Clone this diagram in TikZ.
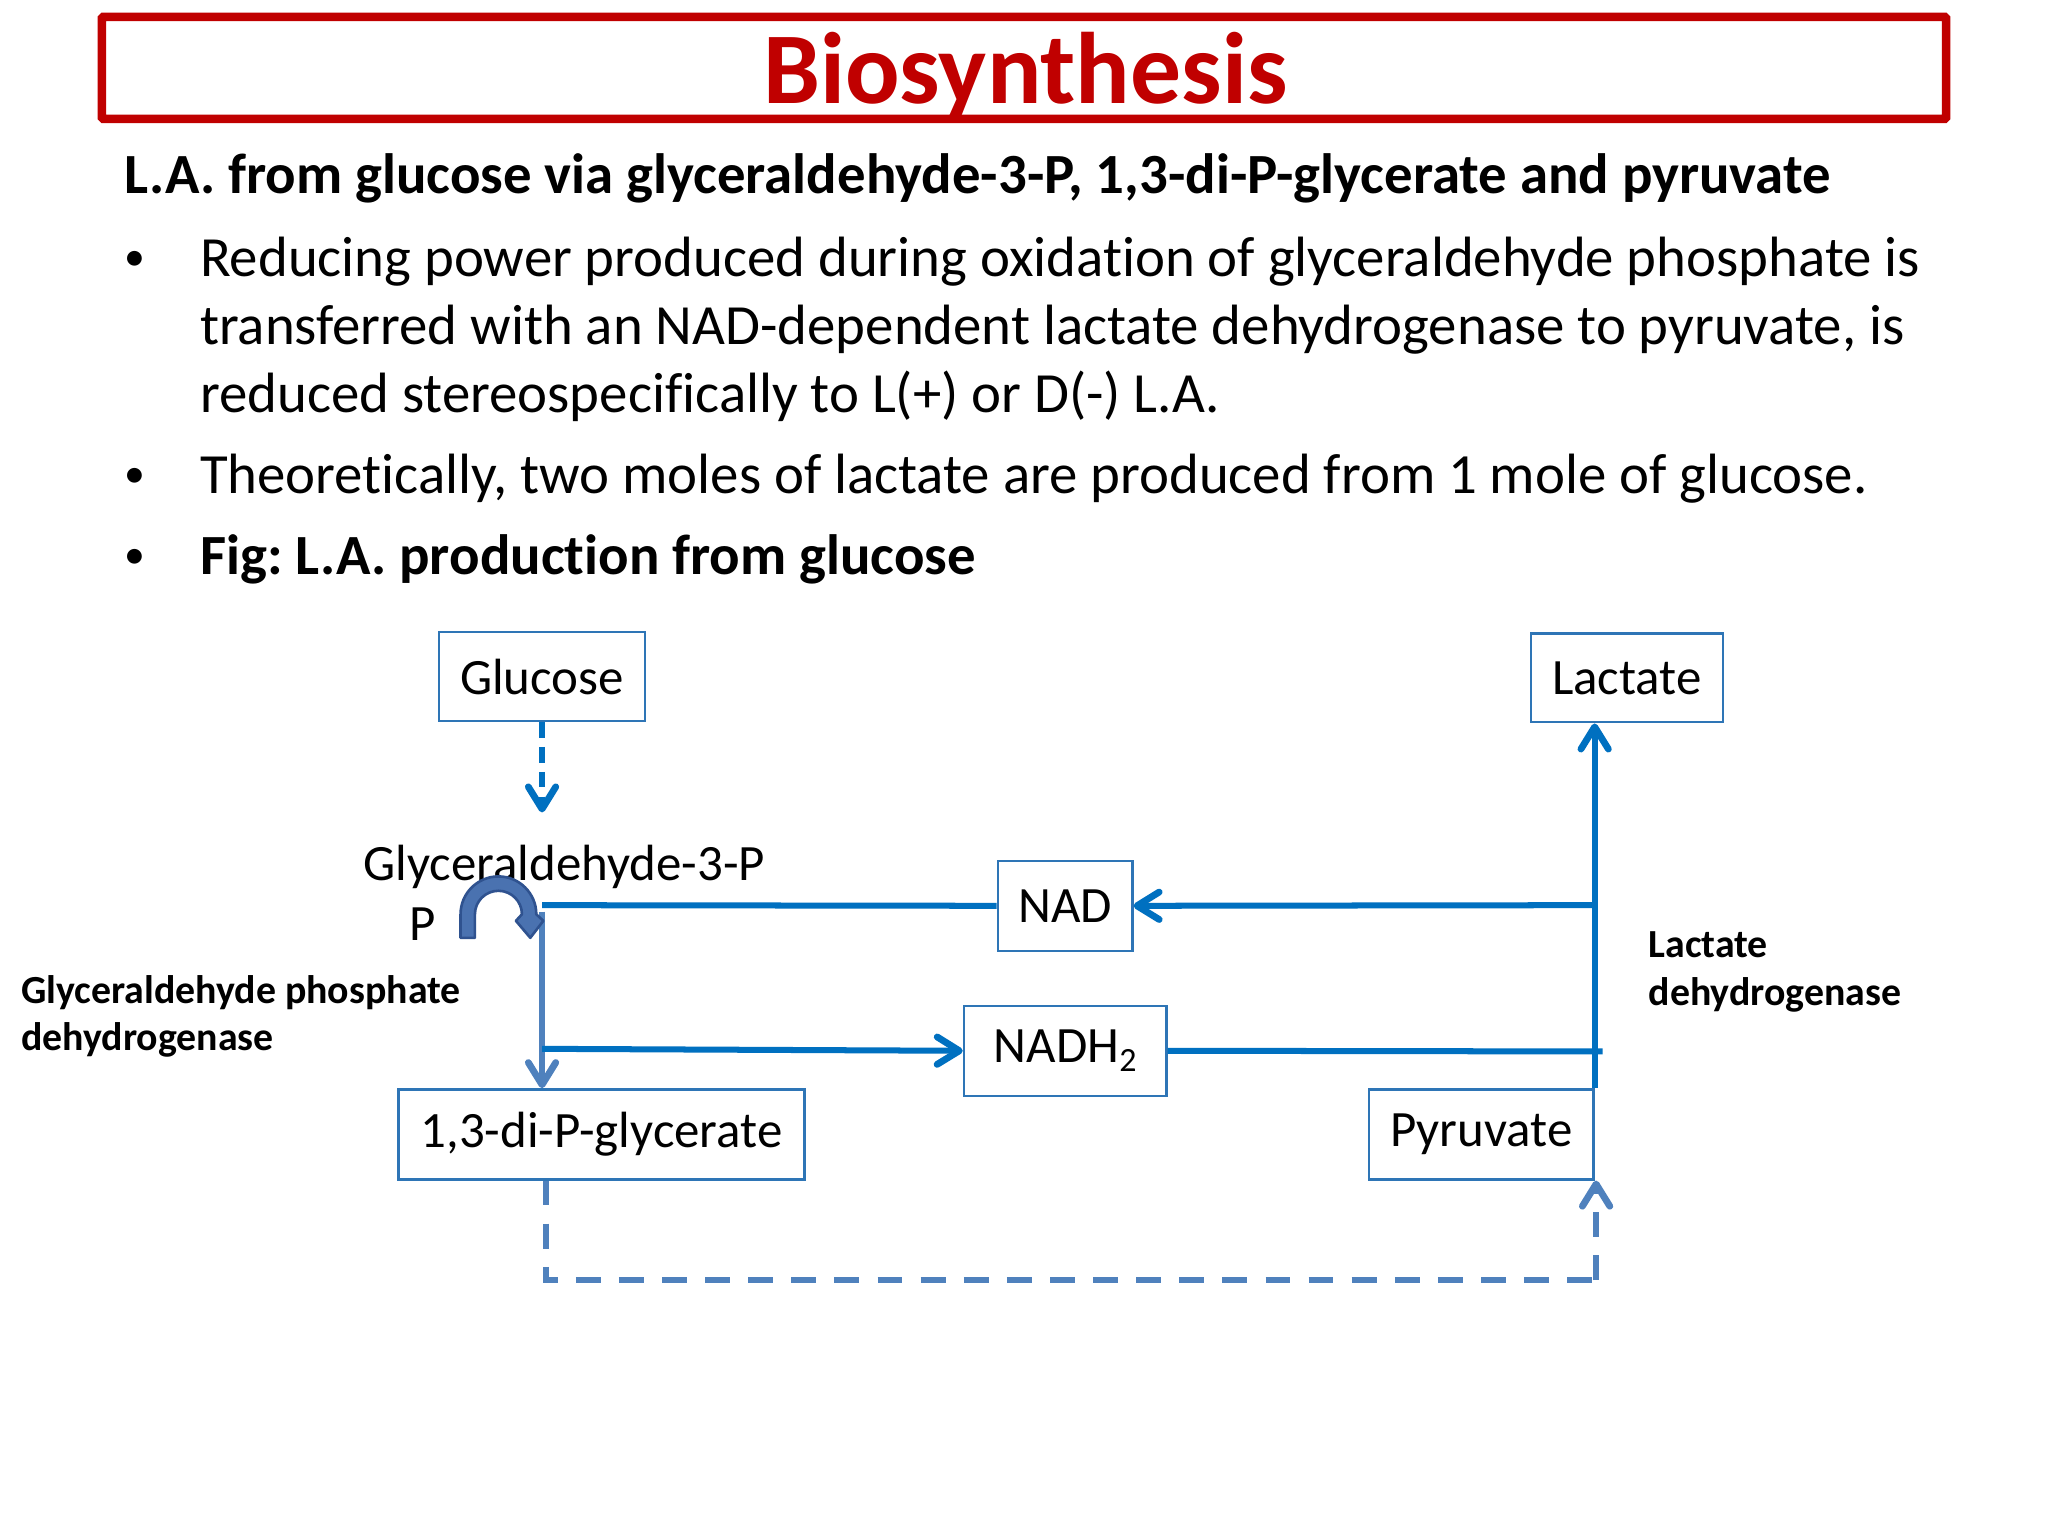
\documentclass[tikz,border=0pt]{standalone}
\usepackage{fontspec}
\setmainfont{Carlito}[Ligatures={NoCommon}]
\usetikzlibrary{arrows.meta}
\definecolor{tred}{HTML}{C00000}
\definecolor{lblue}{HTML}{0070C0}
\definecolor{sblue}{HTML}{4F81BD}
\definecolor{bblue}{HTML}{2E75B6}
\definecolor{arcfill}{HTML}{4A72B0}
\definecolor{arcdraw}{HTML}{2F528F}
\frenchspacing
\begin{document}
\begin{tikzpicture}[x=1pt,y=-1pt,
  box/.style={draw=bblue,line width=1.8pt,inner sep=0pt,font=\fontsize{39}{44}\selectfont},
  txt/.style={anchor=base west,inner sep=0pt,font=\fontsize{43.5}{50}\selectfont},
  btxt/.style={txt,font=\fontsize{43.5}{50}\selectfont\bfseries},
  bul/.style={anchor=base west,inner sep=0pt,font=\fontsize{32}{36}\selectfont},
  lbl/.style={anchor=base west,inner sep=0pt,font=\fontsize{30.5}{34}\selectfont\bfseries},
  dlbl/.style={anchor=base west,inner sep=0pt,font=\fontsize{39}{44}\selectfont},
  bline/.style={draw=lblue,line width=4.6pt},
  sline/.style={draw=sblue,line width=4.4pt},
  tip/.style={-{Straight Barb[round,length=17pt,width=21pt,line width=5.2pt]}}
]
\useasboundingbox (0,0) rectangle (1568,1176);
\fill[white] (0,0) rectangle (1568,1176);
% title
\node[draw=tred,line width=6.5pt,minimum width=1412pt,minimum height=78pt,inner sep=0pt,rounded corners=1pt] (titlebox) at (784,52) {};
\node[anchor=base,inner sep=0pt,text=tred,font=\fontsize{77.8}{80}\selectfont\bfseries] (title) at (785,79) {Biosynthesis};
% text
\node[btxt] (head) at (95,148) {L.A. from glucose via glyceraldehyde-3-P, 1,3-di-P-glycerate and pyruvate};
\node[bul] (b1) at (95,207) {•};
\node[txt] (l1) at (153,212) {Reducing power produced during oxidation of glyceraldehyde phosphate is};
\node[txt] (l2) at (153,264) {transferred with an NAD-dependent lactate dehydrogenase to pyruvate, is};
\node[txt] (l3) at (153,316) {reduced stereospecifically to L(+) or D(-) L.A.};
\node[bul] (b2) at (95,373) {•};
\node[txt] (l4) at (153,378) {Theoretically, two moles of lactate are produced from 1 mole of glucose.};
\node[bul] (b3) at (95,435) {•};
\node[btxt] (l5) at (153,440) {Fig: L.A. production from glucose};
% diagram boxes
\node[box,minimum width=158pt,minimum height=68pt] (glu) at (415,518) {Glucose};
\node[box,minimum width=147pt,minimum height=68pt] (lac) at (1245.5,519) {Lactate};
\node[box,minimum width=103pt,minimum height=69pt] (nad) at (815.5,693.5) {NAD};
\node[box,minimum width=155pt,minimum height=69pt] (nadh) at (815.5,804.5) {NADH\raisebox{-7pt}{\fontsize{26}{28}\selectfont 2}};
\node[box,minimum width=311pt,minimum height=69pt] (dpg) at (460.5,868.5) {1,3-di-P-glycerate};
\node[box,minimum width=172pt,minimum height=69pt] (pyr) at (1134,868.5) {Pyruvate};
% labels
\node[dlbl] (g3p) at (278,674) {Glyceraldehyde-3-P};
\node[dlbl] (pp) at (313,720) {P};
\node[lbl] (gpd1) at (16,768) {Glyceraldehyde phosphate};
\node[lbl] (gpd2) at (16,804) {dehydrogenase};
\node[lbl] (ldh1) at (1262,733) {Lactate};
\node[lbl] (ldh2) at (1262,770) {dehydrogenase};
% coordinates
\coordinate (gend) at (415,622);
\coordinate (vtop) at (415,698);
\coordinate (nadl) at (415,693);
\coordinate (nadr) at (1220,693);
\coordinate (nadhl) at (415,803);
\coordinate (nadhr) at (1227,805);
\coordinate (dl) at (418,980);
\coordinate (dr) at (1222,980);
% connectors
\draw[bline,dash pattern=on 12pt off 7pt,tip] (glu.south) -- (gend);
\draw[sline,tip] (vtop) -- (dpg.north -| vtop);
\draw[bline] (nadl) -- (nad.west);
\draw[bline,tip] (nadr) -- (nad.east);
\draw[bline,tip] (nadhl) -- (nadh.west);
\draw[bline] (nadh.east) -- (nadhr);
\draw[bline,tip] (pyr.north east) -- (lac.south -| pyr.north east);
\draw[sline,dash pattern=on 19pt off 14pt] (dpg.south -| dl) -- (dl) -- (dr);
\draw[sline,dash pattern=on 19pt off 14pt,tip] (dr) -- (pyr.south -| dr);
% curved block arrow
\draw[fill=arcfill,draw=arcdraw,line width=2pt,line join=round]
  (352.6,718) -- (352.6,700) arc[start angle=180,end angle=360,radius=29]
  -- (416,705) -- (406,718) -- (395,705) -- (399.6,700)
  arc[start angle=360,end angle=180,radius=18] -- (363.6,718) -- cycle;
\end{tikzpicture}
\end{document}
